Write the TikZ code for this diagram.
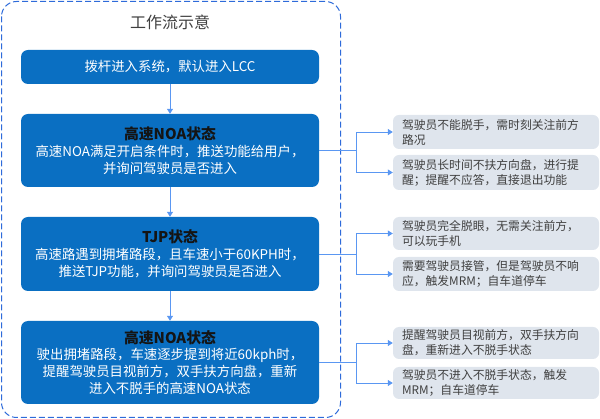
\documentclass[tikz,border=0pt]{standalone}
\usepackage{fontspec}
\setmainfont{Noto Sans CJK SC}
\usetikzlibrary{arrows.meta}
\definecolor{boxblue}{HTML}{0A6FC2}
\definecolor{linkblue}{HTML}{5A97F2}
\definecolor{dashblue}{HTML}{2E6BDA}
\definecolor{greybox}{HTML}{DFE5ED}
\definecolor{greytext}{HTML}{3F3F3F}
\definecolor{headtext}{HTML}{141414}
\tikzset{
  mainbox/.style={fill=boxblue, draw=none, rounded corners=7pt, minimum width=298pt, inner sep=0pt, align=center, text=white, font=\fontsize{13.4}{16.8}\selectfont},
  sidebox/.style={fill=greybox, draw=none, rounded corners=6pt, minimum width=206pt, text width=188pt, inner xsep=9pt, inner ysep=0pt, align=left, text=greytext, font=\fontsize{11.8}{15}\selectfont},
  flow/.style={draw=linkblue, line width=0.8pt, -{Triangle[length=5pt,width=6pt]}},
  link/.style={draw=linkblue, line width=0.8pt}
}
\newcommand{\hd}[1]{{\fontsize{14.8}{16.8}\selectfont\bfseries\color{headtext}#1}}
\begin{document}
\begin{tikzpicture}[x=1pt,y=-1pt]
\useasboundingbox (0,0) rectangle (600,419);
\draw[dashblue, dash pattern=on 6pt off 3pt, line width=1pt, rounded corners=15pt] (1.5,1.5) rectangle (340.5,417.5);
\node[text=greytext, font=\fontsize{16}{18}\selectfont] (title) at (170,22) {工作流示意};

\node[mainbox, minimum height=34pt] (b1) at (170,67) {拨杆进入系统，默认进入LCC};
\node[mainbox, minimum height=73pt] (b2) at (170,150.5) {\hd{高速NOA状态}\\高速NOA满足开启条件时，推送功能给用户，\\并询问驾驶员是否进入};
\node[mainbox, minimum height=74pt] (b3) at (170,254) {\hd{TJP状态}\\高速路遇到拥堵路段，且车速小于60KPH时，\\推送TJP功能，并询问驾驶员是否进入};
\node[mainbox, minimum height=83pt] (b4) at (170,362.5) {\hd{高速NOA状态}\\驶出拥堵路段，车速逐步提到将近60kph时，\\提醒驾驶员目视前方，双手扶方向盘，重新\\进入不脱手的高速NOA状态};

\draw[flow] (b1) -- (b2);
\draw[flow] (b2) -- (b3);
\draw[flow] (b3) -- (b4);

\node[sidebox, minimum height=34pt] (r1) at (496,132) {驾驶员不能脱手，需时刻关注前方\\路况};
\node[sidebox, minimum height=35pt] (r2) at (496,172.5) {驾驶员长时间不扶方向盘，进行提\\醒；提醒不应答，直接退出功能};
\node[sidebox, minimum height=33pt] (r3) at (496,233.5) {驾驶员完全脱眼，无需关注前方，\\可以玩手机};
\node[sidebox, minimum height=34pt] (r4) at (496,274) {需要驾驶员接管，但是驾驶员不响\\应，触发MRM；自车道停车};
\node[sidebox, minimum height=32pt] (r5) at (496,343) {提醒驾驶员目视前方，双手扶方向\\盘，重新进入不脱手状态};
\node[sidebox, minimum height=32pt] (r6) at (496,383) {驾驶员不进入不脱手状态，触发\\MRM；自车道停车};

\coordinate (j2) at (356,150.5);
\coordinate (j3) at (356,254);
\coordinate (j4) at (356,362.5);
\draw[link] (b2.east) -- (j2);
\draw[link] (b3.east) -- (j3);
\draw[link] (b4.east) -- (j4);
\draw[flow] (j2) |- (r1.west);
\draw[flow] (j2) |- (r2.west);
\draw[flow] (j3) |- (r3.west);
\draw[flow] (j3) |- (r4.west);
\draw[flow] (j4) |- (r5.west);
\draw[flow] (j4) |- (r6.west);
\end{tikzpicture}
\end{document}
